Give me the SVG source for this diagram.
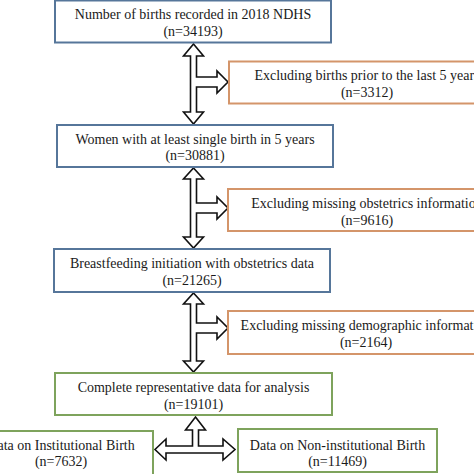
<svg xmlns="http://www.w3.org/2000/svg" width="474" height="474" viewBox="0 0 474 474">
<style>
  rect { fill: #ffffff; stroke-width: 2; }
  .blue { stroke: #56769a; }
  .orange { stroke: #d4956a; }
  .green { stroke: #7ea35c; }
  text { font-family: "Liberation Serif", "Times New Roman", serif; font-size: 14px; fill: #1a1a1a; text-anchor: middle; }
  .arrow { fill: #ffffff; stroke: #111111; stroke-width: 1.6; stroke-linejoin: miter; }
</style>
<rect x="0" y="0" width="474" height="474" style="fill:#ffffff;stroke:none"/>
<g id="connectors">
  <path class="arrow" d="M193.5,44 L203.5,56 L196.5,56 L196.5,77 L217,77 L217,71 L228,82 L217,93 L217,87 L196.5,87 L196.5,112 L203.5,112 L193.5,124 L183.5,112 L190.5,112 L190.5,56 L183.5,56 Z"/>
  <path class="arrow" d="M193.5,168 L203.5,179 L196.5,179 L196.5,203 L217,203 L217,197 L228,208 L217,219 L217,213 L196.5,213 L196.5,237 L203.5,237 L193.5,248 L183.5,237 L190.5,237 L190.5,179 L183.5,179 Z"/>
  <path class="arrow" d="M193.5,293 L203.5,304 L196.5,304 L196.5,323 L217,323 L217,317 L228,328 L217,339 L217,333 L196.5,333 L196.5,361 L203.5,361 L193.5,372 L183.5,361 L190.5,361 L190.5,304 L183.5,304 Z"/>
  <path class="arrow" d="M195.5,417 L205.5,430 L198.5,430 L198.5,446 L223,446 L223,439 L235,449.5 L223,460 L223,453 L166,453 L166,460 L155,449.5 L166,439 L166,446 L192.5,446 L192.5,430 L185.5,430 Z"/>
</g>
<g id="n1">
  <rect class="blue" x="55" y="0.5" width="276" height="42"/>
  <text x="193" y="19">Number of births recorded in 2018 NDHS</text>
  <text x="193" y="35.5">(n=34193)</text>
</g>
<g id="e1">
  <rect class="orange" x="229" y="61.5" width="290" height="42"/>
  <text x="367" y="80">Excluding births prior to the last 5 years</text>
  <text x="367" y="97">(n=3312)</text>
</g>
<g id="n2">
  <rect class="blue" x="57" y="125" width="276" height="42"/>
  <text x="195" y="144">Women with at least single birth in 5 years</text>
  <text x="195" y="160">(n=30881)</text>
</g>
<g id="e2">
  <rect class="orange" x="228" y="189" width="290" height="42"/>
  <text x="367" y="207.5">Excluding missing obstetrics information</text>
  <text x="367" y="224.5">(n=9616)</text>
</g>
<g id="n3">
  <rect class="blue" x="54" y="249" width="276" height="43"/>
  <text x="192" y="268">Breastfeeding initiation with obstetrics data</text>
  <text x="192" y="284.5">(n=21265)</text>
</g>
<g id="e3">
  <rect class="orange" x="228" y="311" width="290" height="43"/>
  <text x="366" y="330">Excluding missing demographic information</text>
  <text x="366" y="347">(n=2164)</text>
</g>
<g id="n4">
  <rect class="green" x="55" y="373" width="277" height="42"/>
  <text x="193.5" y="392">Complete representative data for analysis</text>
  <text x="193.5" y="408.5">(n=19101)</text>
</g>
<g id="n5">
  <rect class="green" x="-31" y="431" width="184" height="50"/>
  <text x="61" y="450">Data on Institutional Birth</text>
  <text x="61" y="466">(n=7632)</text>
</g>
<g id="n6">
  <rect class="green" x="238" y="429" width="199" height="43"/>
  <text x="337.5" y="450">Data on Non-institutional Birth</text>
  <text x="337.5" y="466">(n=11469)</text>
</g>
</svg>
